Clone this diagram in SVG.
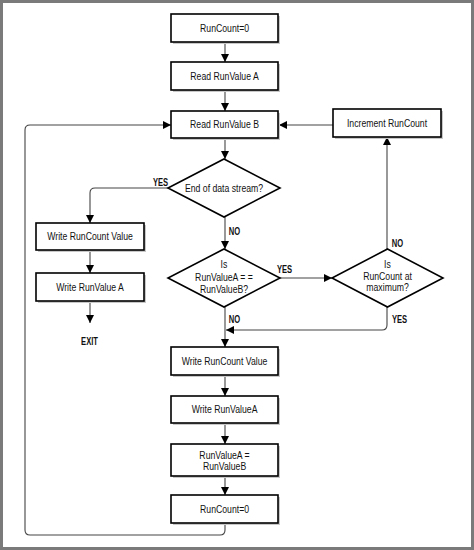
<svg xmlns="http://www.w3.org/2000/svg" width="474" height="550" viewBox="0 0 474 550">
<defs>
<marker id="ah" viewBox="0 0 10 10" refX="10" refY="5" markerWidth="8" markerHeight="8" markerUnits="userSpaceOnUse" orient="auto">
<path d="M0,0 L10,5 L0,10 Z" fill="#000"/>
</marker>
</defs>
<style>
.frame{fill:#fff;stroke:#7a7a7a;stroke-width:3}
.sh{fill:#c8c8c8}
.box{fill:#fff;stroke:#000;stroke-width:1.6}
.dia{fill:#fff;stroke:#000;stroke-width:1.6}
.t{font-family:"Liberation Sans",Arial,sans-serif;font-size:11px;fill:#111;text-anchor:middle;transform-box:fill-box;transform-origin:center;transform:scaleX(0.79)}
.lb{font-family:"Liberation Sans",Arial,sans-serif;font-size:10px;font-weight:bold;fill:#111;text-anchor:middle;transform-box:fill-box;transform-origin:center;transform:scaleX(0.76)}
.ca{fill:none;stroke:#444;stroke-width:1.1;marker-end:url(#ah)}
</style>
<rect class="frame" x="1.5" y="1.5" width="471" height="547"/>

<g id="connectors">
<path class="ca" d="M225,42 V62"/>
<path class="ca" d="M225,90 V111"/>
<path class="ca" d="M225,138 V159"/>
<path class="ca" d="M333,125 H279"/>
<path class="ca" d="M168,188 H95 Q90,188 90,193 V223"/>
<path class="ca" d="M90,250 V273"/>
<path class="ca" d="M90,301 V323"/>
<path class="ca" d="M225,217 V249"/>
<path class="ca" d="M280,278 H332"/>
<path class="ca" d="M387,249 V137"/>
<path class="ca" d="M387,307 V325 Q387,330 382,330 H226"/>
<path class="ca" d="M225,307 V347"/>
<path class="ca" d="M225,375 V396"/>
<path class="ca" d="M225,423 V444"/>
<path class="ca" d="M225,476 V495"/>
<path class="ca" d="M225,523 V530 Q225,535 220,535 H30 Q25,535 25,530 V130 Q25,125 30,125 H171"/>
<text class="lb" x="160.5" y="186">YES</text>
<text class="lb" x="234.5" y="235">NO</text>
<text class="lb" x="284.5" y="273">YES</text>
<text class="lb" x="397.5" y="247">NO</text>
<text class="lb" x="234.5" y="323">NO</text>
<text class="lb" x="399.5" y="323">YES</text>
<text class="lb" x="89.5" y="345">EXIT</text>
</g>

<g id="n_runcount0">
<rect class="sh" x="173" y="16" width="107" height="28"/>
<rect class="box" x="171" y="14" width="107" height="28"/>
<text class="t" x="224.5" y="32">RunCount=0</text>
</g>
<g id="n_readA">
<rect class="sh" x="173" y="64" width="107" height="28"/>
<rect class="box" x="171" y="62" width="107" height="28"/>
<text class="t" x="224.5" y="80">Read RunValue A</text>
</g>
<g id="n_readB">
<rect class="sh" x="173" y="113" width="107" height="27"/>
<rect class="box" x="171" y="111" width="107" height="27"/>
<text class="t" x="224.5" y="128.5">Read RunValue B</text>
</g>
<g id="n_incr">
<rect class="sh" x="335" y="111" width="108" height="28"/>
<rect class="box" x="333" y="109" width="108" height="28"/>
<text class="t" x="387" y="127">Increment RunCount</text>
</g>
<g id="n_endstream">
<polygon class="dia" points="224,159 280,188 224,217 168,188"/>
<text class="t" x="224" y="192">End of data stream?</text>
</g>
<g id="n_writeCountL">
<rect class="sh" x="38" y="225" width="108" height="27"/>
<rect class="box" x="36" y="223" width="108" height="27"/>
<text class="t" x="90" y="240.5">Write RunCount Value</text>
</g>
<g id="n_writeAL">
<rect class="sh" x="38" y="275" width="108" height="28"/>
<rect class="box" x="36" y="273" width="108" height="28"/>
<text class="t" x="90" y="291">Write RunValue A</text>
</g>
<g id="n_cmp">
<polygon class="dia" points="224,249 280,278 224,307 168,278"/>
<text class="t" x="224" y="268">Is</text>
<text class="t" x="224" y="281">RunValueA = =</text>
<text class="t" x="224" y="293">RunValueB?</text>
</g>
<g id="n_max">
<polygon class="dia" points="387.5,249 443,278 387.5,307 332,278"/>
<text class="t" x="387.5" y="268">Is</text>
<text class="t" x="387.5" y="280">RunCount at</text>
<text class="t" x="387.5" y="291">maximum?</text>
</g>
<g id="n_writeCount">
<rect class="sh" x="173" y="349" width="107" height="28"/>
<rect class="box" x="171" y="347" width="107" height="28"/>
<text class="t" x="224.5" y="365">Write RunCount Value</text>
</g>
<g id="n_writeA">
<rect class="sh" x="173" y="398" width="107" height="27"/>
<rect class="box" x="171" y="396" width="107" height="27"/>
<text class="t" x="224.5" y="413.5">Write RunValueA</text>
</g>
<g id="n_assign">
<rect class="sh" x="173" y="446" width="107" height="32"/>
<rect class="box" x="171" y="444" width="107" height="32"/>
<text class="t" x="224.5" y="459">RunValueA =</text>
<text class="t" x="224.5" y="470">RunValueB</text>
</g>
<g id="n_runcount0b">
<rect class="sh" x="173" y="497" width="107" height="28"/>
<rect class="box" x="171" y="495" width="107" height="28"/>
<text class="t" x="224.5" y="513">RunCount=0</text>
</g>
</svg>
